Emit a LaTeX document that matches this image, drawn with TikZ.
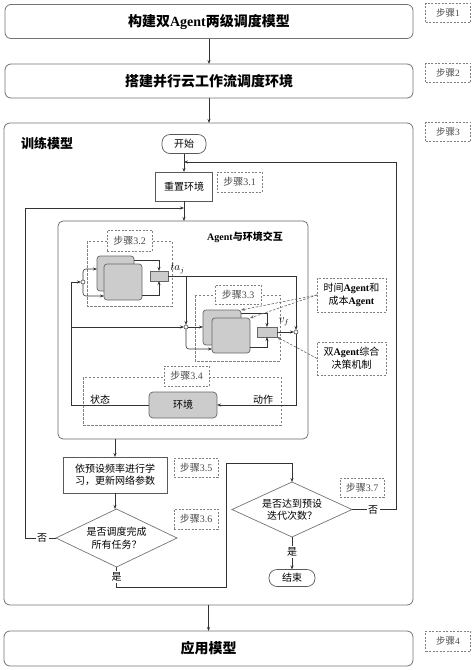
\documentclass[tikz,border=0pt]{standalone}
\usepackage{fontspec}
\setmainfont{Liberation Serif}
\newfontfamily\cjk{Noto Sans CJK SC}
\usetikzlibrary{arrows.meta,shapes.geometric,calc}
\newcommand\zh[1]{{\cjk #1}}
\begin{document}
\begin{tikzpicture}[x=1pt,y=-1pt,
  every node/.style={inner sep=0pt, outer sep=0pt, align=center},
  mainbox/.style={draw=black!55, line width=0.8pt, rounded corners=6pt},
  steplab/.style={draw=black!50, dash pattern=on 2pt off 1.5pt, line width=0.6pt, fill=white, font=\fontsize{9.5}{11}\selectfont, text=black!70},
  dgroup/.style={draw=black!50, dash pattern=on 2.5pt off 1.5pt, line width=0.6pt},
  arr/.style={-{Stealth[length=4pt,width=3pt]}, draw=black!80, line width=0.6pt},
  pln/.style={draw=black!80, line width=0.6pt},
  gsq/.style={draw=black!60, fill=black!20, line width=0.7pt, rounded corners=3pt},
  pbox/.style={draw=black!65, line width=0.7pt},
  dec/.style={shape=diamond, draw=black!55, line width=0.7pt, aspect=2.1},
  term/.style={draw=black!65, line width=0.7pt, rounded corners=8pt},
  dot/.style={circle, draw=black!80, fill=white, minimum size=4pt, line width=0.5pt},
  txt/.style={font=\fontsize{10}{12.5}\selectfont},
  lab/.style={fill=white, font=\fontsize{10}{12}\selectfont, inner sep=1.5pt},
  callarr/.style={-{Stealth[length=4pt,width=3pt]}, draw=black!60, dash pattern=on 2.5pt off 1.5pt, line width=0.6pt},
]
\useasboundingbox (0,0) rectangle (474,670);

% ---------- top level boxes ----------
\node[mainbox, minimum width=408, minimum height=34, font=\fontsize{14}{16}\selectfont\bfseries] (s1) at (209,21.5) {\zh{构建双}Agent\zh{两级调度模型}};
\node[steplab, minimum width=45, minimum height=19] (l1) at (448,12.5) {\zh{步骤}1};
\node[mainbox, minimum width=408, minimum height=34, font=\fontsize{14}{16}\selectfont\bfseries] (s2) at (209,81) {\zh{搭建并行云工作流调度环境}};
\node[steplab, minimum width=45, minimum height=19] (l2) at (448,72.5) {\zh{步骤}2};
\node[mainbox, minimum width=409, minimum height=482] (s3) at (208.5,364) {};
\node[steplab, minimum width=45, minimum height=19] (l3) at (448,131.5) {\zh{步骤}3};
\node[mainbox, minimum width=409, minimum height=35, font=\fontsize{14}{16}\selectfont\bfseries] (s4) at (208.5,648.5) {\zh{应用模型}};
\node[steplab, minimum width=45, minimum height=20] (l4) at (448,641) {\zh{步骤}4};

\draw[arr] (s1.south) -- (s2.north);
\draw[arr] (s2.south) -- (s2.south |- s3.north);
\draw[arr] (s3.south) -- (s3.south |- s4.north);

\node[font=\fontsize{13}{15}\selectfont\bfseries, anchor=west] (t3) at (21,143) {\zh{训练模型}};

% ---------- training flow ----------
\node[term, minimum width=44, minimum height=19, font=\fontsize{10}{12}\selectfont] (st) at (184,144) {\zh{开始}};
\node[pbox, minimum width=57, minimum height=29, txt] (rs) at (184,186.5) {\zh{重置环境}};
\node[steplab, minimum width=45, minimum height=20, font=\fontsize{10}{12}\selectfont] (l31) at (239.5,182) {\zh{步骤}3.1};

\node[draw=black!60, line width=0.7pt, rounded corners=5pt, minimum width=250, minimum height=218] (ag) at (183,330) {};
\node[font=\fontsize{10}{12}\selectfont\bfseries] (agt) at (245,237) {Agent\zh{与环境交互}};

\draw[arr] (st.south) -- (rs.north);
\draw[arr] (rs.south) -- (rs.south |- ag.north);

% ---------- step 3.2 ----------
\draw[dgroup] (87,241) rectangle (172,306);
\node[steplab, minimum width=45, minimum height=21, font=\fontsize{10}{12}\selectfont] (l32) at (129.5,240.5) {\zh{步骤}3.2};
\node[gsq, minimum width=37, minimum height=35] (b1) at (115.5,273.5) {};
\node[gsq, minimum width=38, minimum height=36] (f1) at (123,282) {};
\node[gsq, rounded corners=0pt, minimum width=18, minimum height=10] (r1) at (159,276) {};
\node[dot] (c1) at (83,282) {};

% ---------- step 3.3 ----------
\draw[dgroup] (195,295) rectangle (280,361);
\node[steplab, minimum width=46, minimum height=19, font=\fontsize{10}{12}\selectfont] (l33) at (238,294.5) {\zh{步骤}3.3};
\node[gsq, minimum width=38, minimum height=35] (b2) at (222,327.5) {};
\node[gsq, minimum width=38, minimum height=35] (f2) at (231,335.5) {};
\node[gsq, rounded corners=0pt, minimum width=20, minimum height=10] (r2) at (267,332) {};
\node[dot] (c2) at (186,327) {};
\node[dot] (c3) at (296,332) {};

% ---------- step 3.4 ----------
\draw[dgroup] (83,377) rectangle (281,425);
\node[steplab, minimum width=45, minimum height=20, font=\fontsize{10}{12}\selectfont] (l34) at (186.5,376) {\zh{步骤}3.4};
\node[gsq, rounded corners=4pt, minimum width=68, minimum height=26, txt] (env) at (183,405) {\zh{环境}};
\node[txt] (zt) at (100,400) {\zh{状态}};
\node[txt] (dz) at (263,400) {\zh{动作}};

% ---------- callouts ----------
\node[steplab, text=black, minimum width=69, minimum height=34, font=\fontsize{10}{13}\selectfont] (ca) at (351.5,295) {\zh{时间}\textbf{Agent}\zh{和}\\\zh{成本}\textbf{Agent}};
\node[steplab, text=black, minimum width=69, minimum height=33, font=\fontsize{10}{13}\selectfont] (cb) at (351.5,358.5) {\zh{双}\textbf{Agent}\zh{综合}\\\zh{决策机制}};

% ---------- connectors inside agent box ----------
\coordinate (k1) at (71,282);
\coordinate (k2) at (71,327);
\coordinate (k3) at (71,405);
\draw[arr] (env.west) -- (env.west -| k3) -- (k1) -- (c1);
\draw[arr] (k2) -- (c2);

\coordinate (u1) at (90,269);
\coordinate (u2) at (90,296);
\draw[arr, rounded corners=3pt] (c1.north) |- (b1.west |- u1);
\draw[arr, rounded corners=3pt] (c1.south) |- (f1.west |- u2);
\coordinate (u3) at (0,260);
\coordinate (u4) at (0,295);
\draw[arr] (b1.east |- u3) -| (r1.north);
\draw[arr] (f1.east |- u4) -| (r1.south);

\coordinate (k4) at (296,276);
\draw[pln] (r1.east) -- (k4);
\draw[arr] (k4) -- (c3.north);
\draw[arr] (r1.east -| c2) -- (c2.north);
\node[font=\fontsize{10.5}{11}\selectfont] (taj) at (177.5,268.5) {$ta_j$};

\draw[arr] (c2) -- (b2.west |- c2);
\coordinate (u5) at (0,349);
\draw[arr, rounded corners=3pt] (c2.south) |- (f2.west |- u5);
\coordinate (u6) at (0,313);
\coordinate (u7) at (0,347);
\draw[arr] (b2.east |- u6) -| (r2.north);
\draw[arr] (f2.east |- u7) -| (r2.south);
\draw[arr] (r2.east) -- (c3.west);
\node[font=\fontsize{10.5}{11}\selectfont] (vf) at (284,322) {$v_f$};
\draw[arr] (c3.south) |- (env.east);

\draw[callarr] (ca.west) -- (b2.north east);
\draw[callarr] (ca.west) -- (f2.north east);
\draw[callarr] (cb.west) -- (r2.south east);

% ---------- learning and decisions ----------
\node[pbox, minimum width=104, minimum height=36, txt] (lrn) at (115,475) {\zh{依预设频率进行学}\\\zh{习，更新网络参数}};
\node[steplab, minimum width=44, minimum height=19, font=\fontsize{10}{12}\selectfont] (l35) at (196,467.5) {\zh{步骤}3.5};
\draw[arr] (lrn.north |- ag.south) -- (lrn.north);

\node[dec, minimum width=121, minimum height=58, txt] (d1) at (116.5,538) {\zh{是否调度完成}\\\zh{所有任务？}};
\node[steplab, minimum width=44, minimum height=20, font=\fontsize{10}{12}\selectfont] (l36) at (196,519) {\zh{步骤}3.6};
\draw[arr] (lrn.south) -- (lrn.south |- d1.north);

\node[dec, minimum width=120, minimum height=55, txt] (d2) at (292,509.5) {\zh{是否达到预设}\\\zh{迭代次数？}};
\node[steplab, minimum width=44, minimum height=19, font=\fontsize{10}{12}\selectfont] (l37) at (362,487.5) {\zh{步骤}3.7};

\node[term, minimum width=46, minimum height=17, font=\fontsize{10}{12}\selectfont] (fin) at (292,578) {\zh{结束}};

\coordinate (k5) at (25,208);
\draw[arr] (d1.west) -| (k5) -- (k5 -| rs.south);
\node[lab] (no1) at (42,538) {\zh{否}};

\coordinate (k6) at (226,587);
\coordinate (k7) at (226,463);
\draw[arr] (d1.south) |- (k6) -- (k7) -| (d2.north);
\node[lab] (yes1) at (116.5,577) {\zh{是}};

\coordinate (k8) at (396,162);
\draw[arr] (d2.east) -| (k8) -- (k8 -| st.south);
\node[lab] (no2) at (373,510) {\zh{否}};

\draw[arr] (d2.south) -- (fin.north);
\node[lab] (yes2) at (292,552) {\zh{是}};
\end{tikzpicture}
\end{document}
